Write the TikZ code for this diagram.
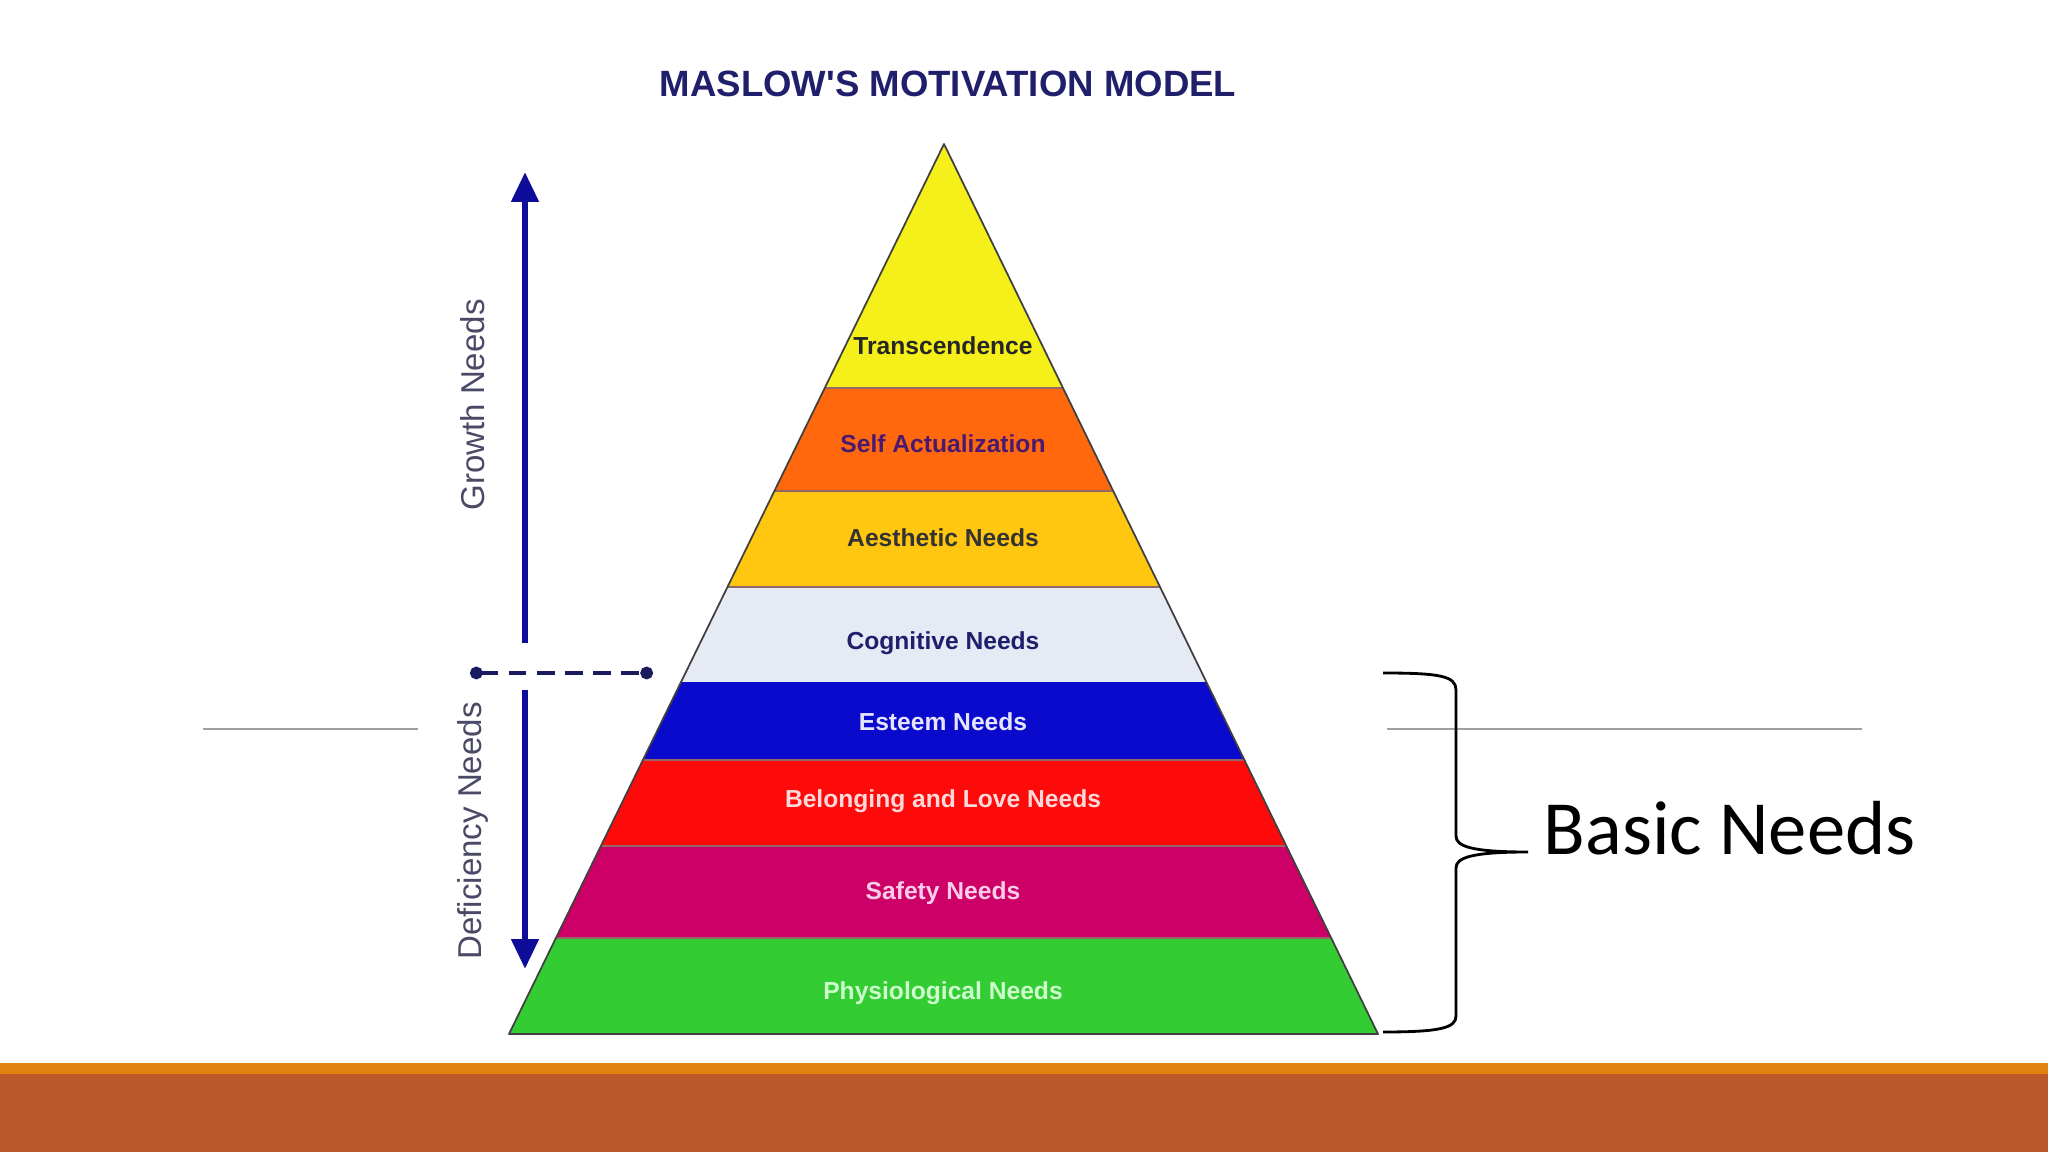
\documentclass[tikz,border=0pt]{standalone}
\usepackage{fontspec}
\setsansfont{Liberation Sans}[Ligatures=TeXOff]
\newfontfamily\slidefont{Carlito}
\usetikzlibrary{arrows.meta, calc}
\usepackage{xcolor}
\definecolor{titleNavy}{HTML}{1F1F6B}
\definecolor{arrowBlue}{HTML}{0D0D99}
\definecolor{splitNavy}{HTML}{1A1A5E}
\definecolor{sideGray}{HTML}{4A4A66}
\definecolor{selfPurple}{HTML}{4A1A70}
\definecolor{transYellow}{HTML}{F6F01A}
\definecolor{selfOrange}{HTML}{FF680D}
\definecolor{aesGold}{HTML}{FFC70F}
\definecolor{cogPale}{HTML}{E6EAF5}
\definecolor{esteemBlue}{HTML}{0A0ACC}
\definecolor{loveRed}{HTML}{FF0A0A}
\definecolor{safeMagenta}{HTML}{CC0066}
\definecolor{physGreen}{HTML}{33CC33}
\definecolor{barOrange}{HTML}{E0820F}
\definecolor{barBrown}{HTML}{BA582A}
\tikzset{
    font=\sffamily,
    >=Stealth,
    % Shapes
    lbl/.style={font=\sffamily\bfseries\fontsize{7}{8}\selectfont, inner sep=0pt},
    needs/.style={font=\sffamily\fontsize{9.4}{10}\selectfont, text=sideGray, rotate=90, inner sep=0pt},
    heading/.style={font=\sffamily\bfseries\fontsize{10.4}{12}\selectfont, text=titleNavy, inner sep=0pt},
    outline/.style={draw=black!75, line width=0.5pt, line join=round},
    layer/.style={draw=black!70!red!60, line width=0.6pt},
    % Flow
    flow/.style={-{Triangle[length=8.5pt, width=7.5pt]}, line width=1.8pt, arrowBlue},
    split/.style={{Circle[length=3.6pt]}-{Circle[length=3.6pt]}, line width=1.1pt, splitNavy, dash pattern=on 5pt off 3pt},
    rule/.style={draw=gray!75, line width=0.6pt},
    brace/.style={draw=black, line width=0.8pt}
}

\begin{document}
\begin{tikzpicture}[x=0.01cm, y=-0.01cm]
\useasboundingbox (0,0) rectangle (2048,1152);

% slide rules and footer
\draw[rule] (203,729) -- (418,729);
\draw[rule] (1387,729) -- (1862,729);
\fill[barOrange] (0,1063) rectangle (2048,1074);
\fill[barBrown] (0,1074) rectangle (2048,1152);

\node[heading] (title) at (948,84) {MASLOW'S MOTIVATION MODEL};

% pyramid
\coordinate (apex) at (944,144);
\coordinate (baseR) at (1378,1034);
\coordinate (baseL) at (509,1034);
\begin{scope}
    \clip (apex) -- (baseR) -- (baseL) -- cycle;
    \foreach \top/\bot/\col in {144/388/transYellow, 388/491/selfOrange, 491/587/aesGold,
        587/682/cogPale, 682/760/esteemBlue, 760/846/loveRed, 846/938/safeMagenta, 938/1034/physGreen}
        \fill[\col] (480,\top) rectangle (1400,\bot);
    \foreach \y in {388,491,587,760,846,938}
        \draw[layer] (480,\y) -- (1400,\y);
\end{scope}
\draw[outline] (apex) -- (baseR) -- (baseL) -- cycle;

\node[lbl, text=black!85] (trans) at (943,346) {Transcendence};
\node[lbl, text=selfPurple] (self) at (943,444) {Self Actualization};
\node[lbl, text=black!80] (aes) at (943,538) {Aesthetic Needs};
\node[lbl, text=titleNavy] (cog) at (943,643) {Cognitive Needs};
\node[lbl, text=white!90!blue] (esteem) at (943,722) {Esteem Needs};
\node[lbl, text=white!85!red] (love) at (943,801) {Belonging and Love Needs};
\node[lbl, text=white!80!magenta] (safe) at (943,893) {Safety Needs};
\node[lbl, text=white!80!green] (phys) at (943,993) {Physiological Needs};

% growth / deficiency
\coordinate (gBot) at (525,643);
\coordinate (gTop) at (525,172);
\coordinate (dTop) at (525,690);
\coordinate (dBot) at (525,969);
\coordinate (sL) at (470,673);
\coordinate (sR) at (653,673);
\draw[flow] (gBot) -- (gTop);
\draw[flow] (dTop) -- (dBot);
\draw[split] (sL) -- (sR);
\node[needs] (growth) at (473,405) {Growth Needs};
\node[needs] (deficit) at (473,831) {Deficiency Needs};

% basic needs brace
\coordinate (braceTop) at (1383,673);
\coordinate (braceTip) at (1528,852);
\coordinate (braceBot) at (1383,1032);
\draw[brace] (braceTop) .. controls (1440,673) and (1456,676) .. (1456,690) -- (1456,836)
    .. controls (1456,846) and (1470,852) .. (braceTip)
    .. controls (1470,852) and (1456,858) .. (1456,868) -- (1456,1016)
    .. controls (1456,1028) and (1440,1032) .. (braceBot);
\node[font=\slidefont\fontsize{21.8}{24}\selectfont, anchor=west, inner sep=0pt] (basic) at (1543,828) {Basic Needs};

\end{tikzpicture}
\end{document}
